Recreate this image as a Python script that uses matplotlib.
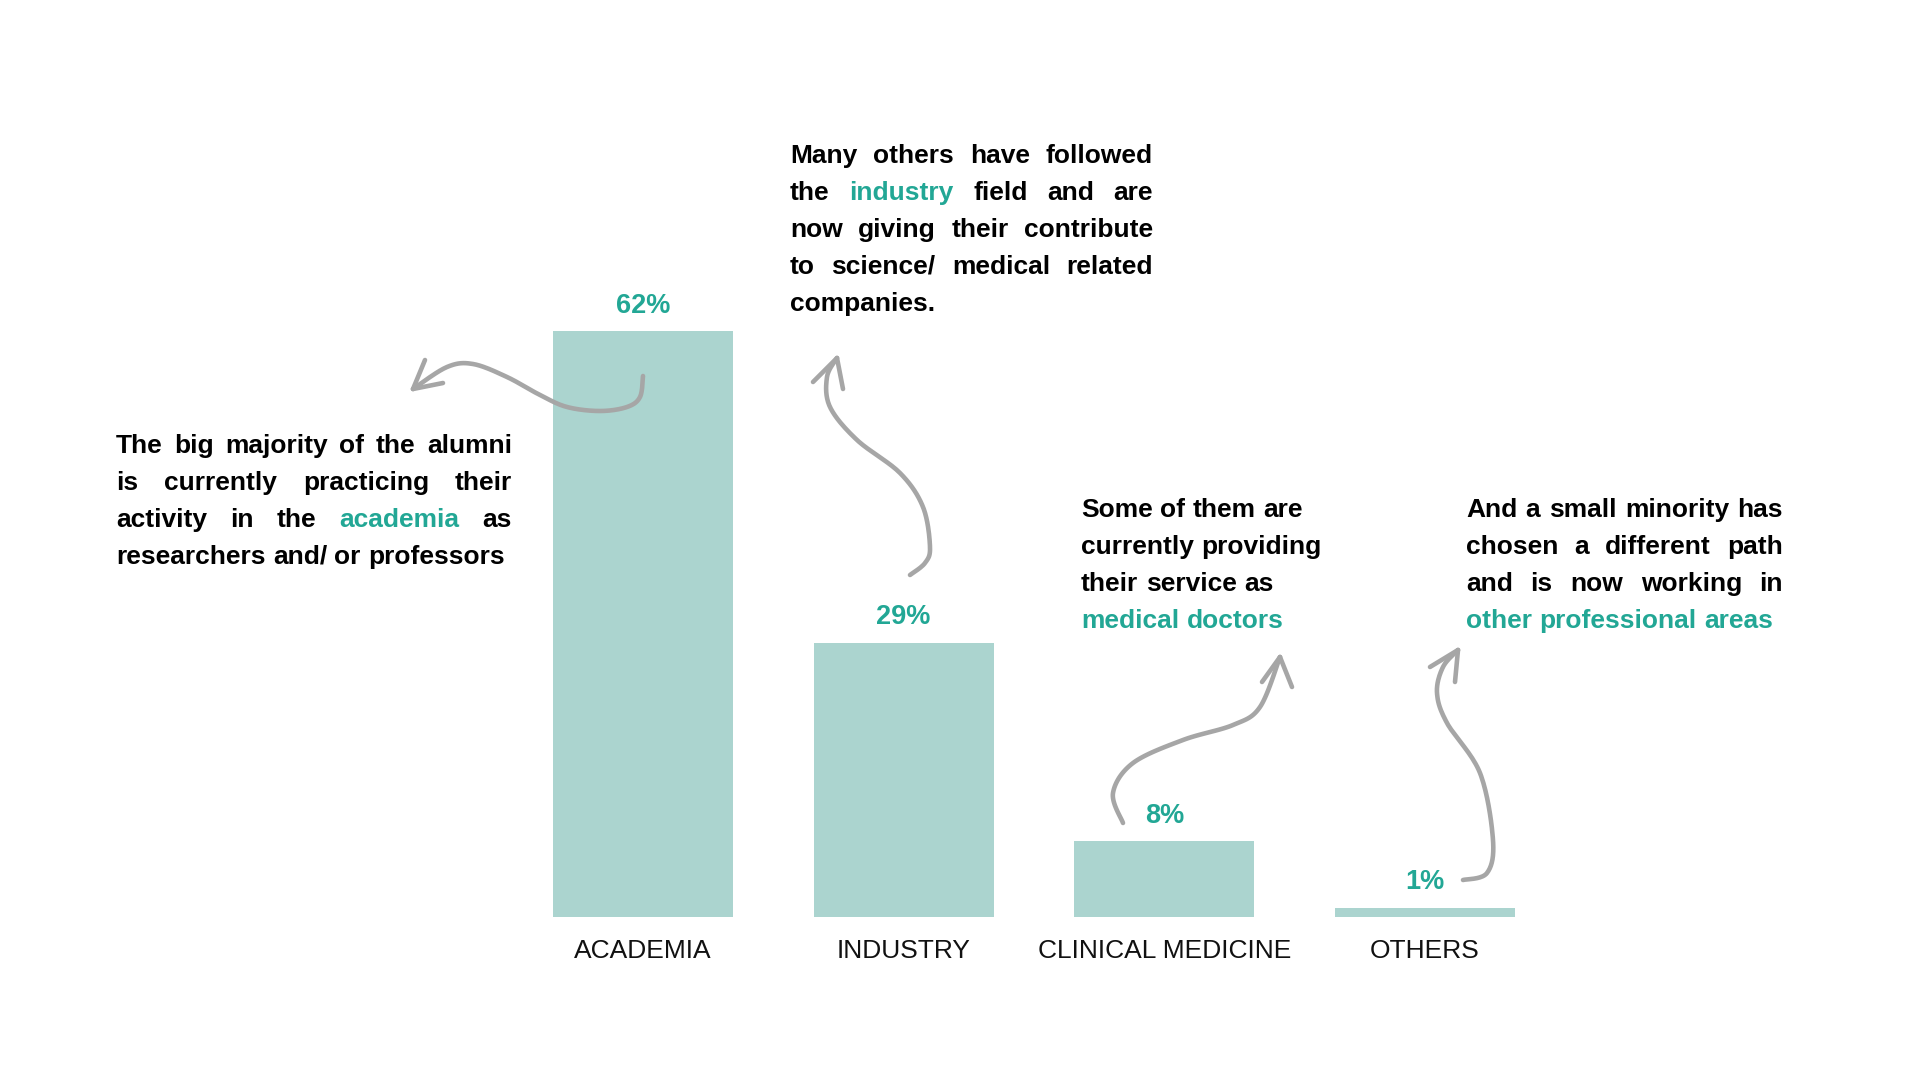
import matplotlib
matplotlib.use("Agg")
import matplotlib.pyplot as plt
import numpy as np

# data
categories = ["ACADEMIA", "INDUSTRY", "CLINICAL MEDICINE", "OTHERS"]
shares = [62, 29, 8, 1]
share_labels = ["62%", "29%", "8%", "1%"]

note_academia = ["The big majority of the alumni",
                 "is currently practicing their",
                 "activity in the *academia* as",
                 "researchers and/ or professors"]
note_industry = ["Many others have followed",
                 "the *industry* field and are",
                 "now giving their contribute",
                 "to science/ medical related",
                 "companies."]
note_clinical = ["Some of them are",
                 "currently providing",
                 "their service as",
                 "*medical* *doctors*"]
note_others = ["And a small minority has",
               "chosen a different path",
               "and is now working in",
               "*other* *professional* *areas*"]

BAR = "#abd4cf"
TEAL = "#22a795"
GREY = "#a6a6a6"
FONT = "Liberation Sans"
FS = 19

fig = plt.figure(figsize=(19.2, 10.8), dpi=100)
fig.patch.set_facecolor("white")

# bar axes, placed so the bars sit where they do in the picture
ax = fig.add_axes([512.6 / 1920, 163 / 1080, 1042.8 / 1920, 661.5 / 1080])
x = np.arange(len(categories))
ax.bar(x, shares, width=0.69, color=BAR)
ax.set_xlim(-0.5, 3.5)
ax.set_ylim(0, 70)
for s in ax.spines.values():
    s.set_visible(False)
ax.set_yticks([])
ax.set_xticks(x)
ax.set_xticklabels(categories, fontsize=19, family=FONT, color="#111111")
ax.tick_params(axis="x", length=0, pad=16)
ax.patch.set_alpha(0)

for xi, v, lab in zip(x, shares, share_labels):
    ax.annotate(lab, (xi, v), xytext=(0, 9), textcoords="offset points",
                ha="center", va="bottom", fontsize=19.5, fontweight="bold",
                family=FONT, color=TEAL)

# overlay in pixel coords for notes + arrows
ov = fig.add_axes([0, 0, 1, 1], zorder=5)
ov.set_xlim(0, 1920)
ov.set_ylim(1080, 0)
ov.axis("off")

renderer = fig.canvas.get_renderer()
space = 0.278 * FS * 100 / 72


def draw_block(lines, x0, x1, y0, step, justify=True):
    for i, line in enumerate(lines):
        y = y0 + i * step
        words = []
        for w in line.split():
            if w.startswith("*"):
                words.append((w.strip("*"), TEAL))
            else:
                words.append((w, "black"))
        texts = [ov.text(0, y, w, color=c, fontsize=FS, fontweight="bold",
                         family=FONT, va="baseline", ha="left") for w, c in words]
        widths = [t.get_window_extent(renderer).width for t in texts]
        last = i == len(lines) - 1
        if justify and not last and len(words) > 1:
            gap = (x1 - x0 - sum(widths)) / (len(words) - 1)
        else:
            gap = space
        xx = x0
        for t, w in zip(texts, widths):
            t.set_x(xx)
            xx += w + gap


draw_block(note_academia, 116, 512, 453, 37)
draw_block(note_industry, 790, 1153, 163, 37)
draw_block(note_clinical, 1081, 1400, 517, 37, justify=False)
draw_block(note_others, 1466, 1783, 517, 37)


def smooth(pts, n=20):
    pts = np.array(pts, float)
    p = np.vstack([pts[0], pts, pts[-1]])
    out = []
    t = np.linspace(0, 1, n)[:, None]
    for i in range(1, len(p) - 2):
        p0, p1, p2, p3 = p[i - 1], p[i], p[i + 1], p[i + 2]
        out.append(0.5 * ((2 * p1) + (-p0 + p2) * t
                          + (2 * p0 - 5 * p1 + 4 * p2 - p3) * t ** 2
                          + (-p0 + 3 * p1 - 3 * p2 + p3) * t ** 3))
    return np.vstack(out)


def arrow(pts, barb1, barb2):
    c = smooth(pts)
    kw = dict(color=GREY, lw=3.3, solid_capstyle="round", solid_joinstyle="round")
    ov.plot(c[:, 0], c[:, 1], **kw)
    tip = pts[-1]
    for b in (barb1, barb2):
        ov.plot([tip[0], b[0]], [tip[1], b[1]], **kw)


arrow([(643, 376), (640, 397), (627, 407), (600, 411), (567, 407), (540, 395),
       (507, 377), (473, 364), (447, 367), (413, 389)], (425, 360), (443, 383))
arrow([(910, 575), (925, 563), (930, 547), (923, 507), (900, 473), (857, 440),
       (830, 407), (827, 377), (837, 358)], (813, 382), (843, 389))
arrow([(1123, 823), (1113, 793), (1133, 763), (1183, 740), (1233, 725),
       (1260, 707), (1280, 657)], (1262, 682), (1292, 687))
arrow([(1463, 880), (1487, 873), (1493, 840), (1480, 773), (1447, 723),
       (1437, 693), (1443, 667), (1458, 650)], (1430, 667), (1455, 682))

fig.savefig("out.png", dpi=100, facecolor="white")
